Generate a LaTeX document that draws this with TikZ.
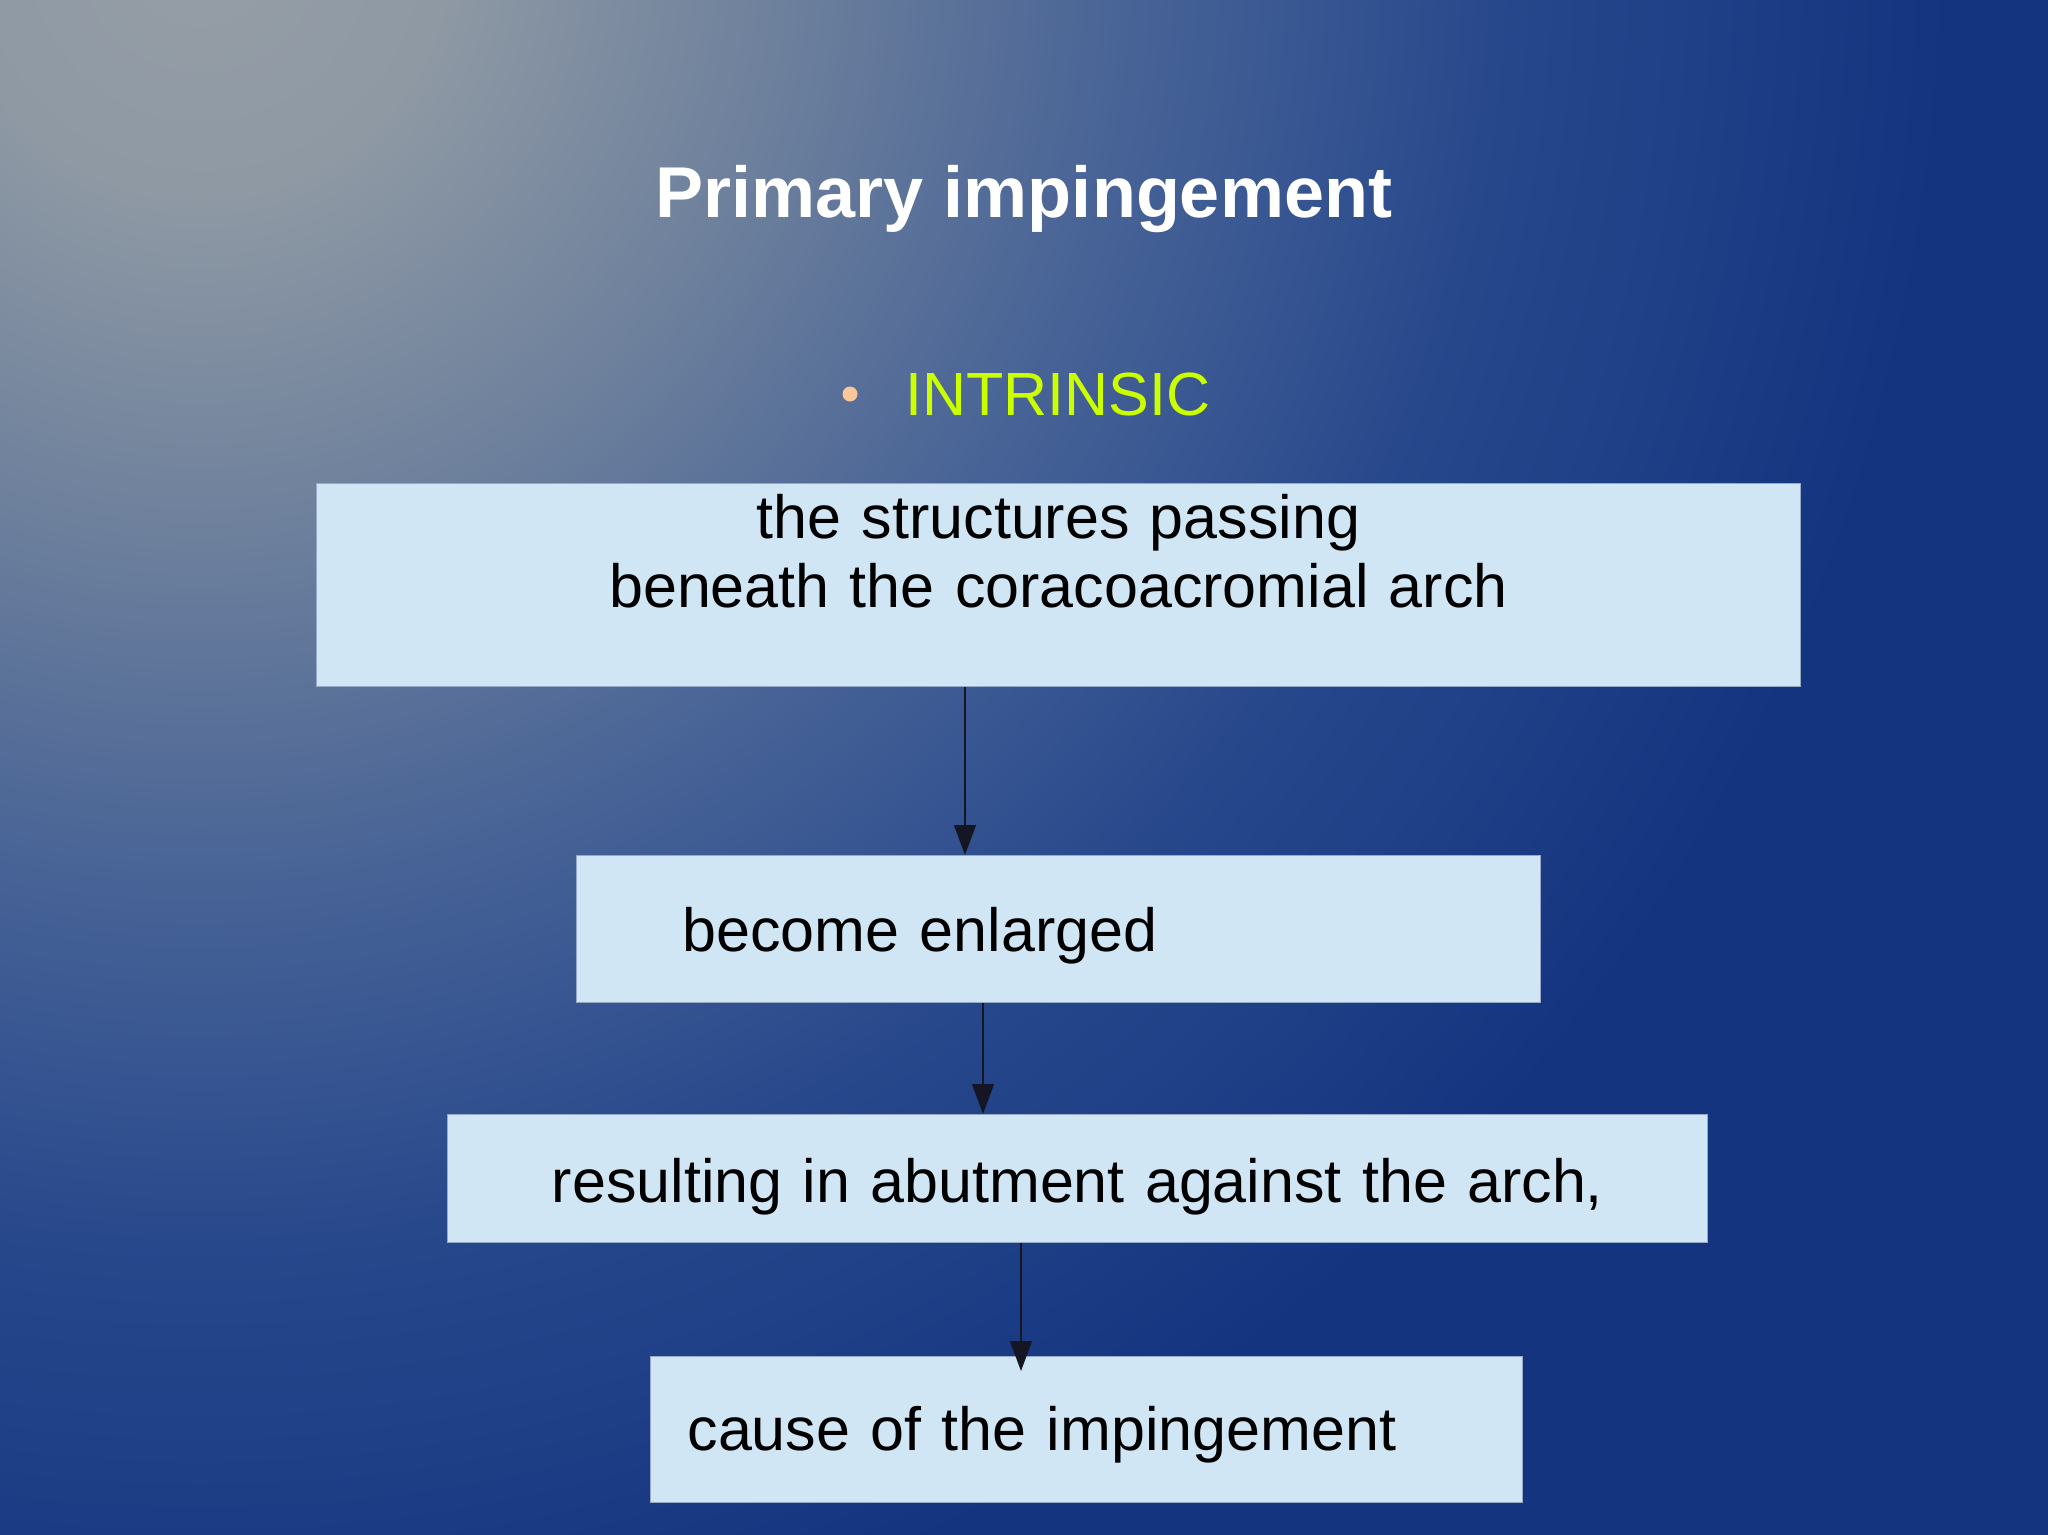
\documentclass[tikz,border=0pt]{standalone}
\usepackage{fontspec}
\setmainfont{Liberation Sans}
\usetikzlibrary{arrows.meta,positioning}

\definecolor{bgA}{RGB}{150,158,166}
\definecolor{bgB}{RGB}{142,153,164}
\definecolor{bgC}{RGB}{108,127,156}
\definecolor{bgD}{RGB}{70,98,150}
\definecolor{bgE}{RGB}{40,72,140}
\definecolor{bgF}{RGB}{20,52,128}
\definecolor{boxfill}{RGB}{208,230,244}
\definecolor{boxline}{RGB}{150,170,200}
\definecolor{linkcol}{RGB}{20,22,35}
\definecolor{intrinsiccol}{RGB}{204,255,0}
\definecolor{dotcol}{RGB}{250,200,152}

\pgfdeclareradialshading{slidebg}{\pgfpointorigin}{color(0bp)=(bgA); color(3.5bp)=(bgB); color(8.5bp)=(bgC); color(13.5bp)=(bgD); color(18.5bp)=(bgE); color(25bp)=(bgF); color(50bp)=(bgF)}

\begin{document}
\begin{tikzpicture}[x=1bp,y=-1bp,>={Triangle[length=30bp,width=22bp]},
	box/.style={fill=boxfill,draw=boxline,line width=1bp,inner sep=0pt,anchor=north west,align=left,font=\fontsize{61bp}{69bp}\selectfont},
	link/.style={->,line width=1.5bp,draw=linkcol,fill=linkcol}]
			% slide background
			\useasboundingbox (0,0) rectangle (2048,1535);
			\begin{scope}
				\clip (0,0) rectangle (2048,1535);
				\fill[bgF] (0,0) rectangle (2048,1535);
				\shade[shading=slidebg] (200,-50) circle (1750);
			\end{scope}
			\node[font=\fontsize{72bp}{86bp}\selectfont\bfseries,text=white,anchor=base] (title) at (1024,217) {Primary impingement};
			\node[circle,fill=dotcol,inner sep=0pt,minimum size=15bp] (dot) at (850,394) {};
			\node[font=\fontsize{61bp}{70bp}\selectfont,text=intrinsiccol,anchor=base west,inner sep=0pt] (intrinsic) at (905,415) {INTRINSIC};
			% boxes
			\node[box,align=center,text width=1484bp,text height=55bp,text depth=148bp] (arch) at (316,483) {the structures passing\\beneath the coracoacromial arch};
			\node[box,inner xsep=106bp,text width=752bp,text height=96bp,text depth=51bp] (enlarge) at (576,855) {become enlarged};
			\node[box,align=center,text width=1260bp,text height=88bp,text depth=40bp] (abut) at (447,1114) {resulting in abutment against the arch,};
			\node[box,inner xsep=37bp,text width=798bp,text height=94bp,text depth=52bp] (cause) at (650,1356) {cause of the impingement};
			\draw[link] (arch.south -| 965,0) -- (enlarge.north -| 965,0);
			\draw[link] (enlarge.south -| 983,0) -- (abut.north -| 983,0);
			\draw[link,shorten >=-15bp] (abut.south -| 1021,0) -- (cause.north -| 1021,0);
		\end{tikzpicture}
\end{document}
